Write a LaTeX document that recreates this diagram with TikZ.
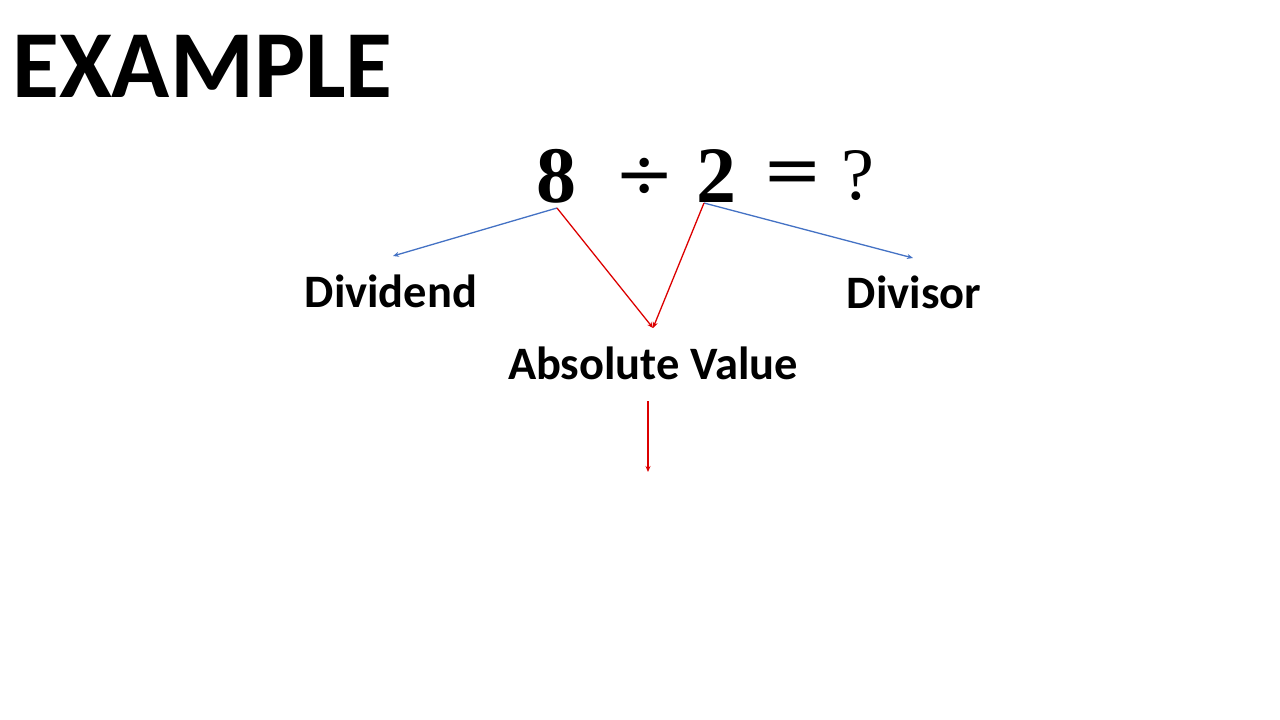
\documentclass[tikz,border=0pt]{standalone}
\usetikzlibrary{arrows.meta}
\usepackage{fontspec}
\setmainfont{Carlito}
\newfontfamily\mfont{Liberation Serif}
\newfontfamily\dfont{DejaVu Serif}
\begin{document}
\begin{tikzpicture}[x=1pt,y=-1pt,
  lbl/.style={font=\bfseries\fontsize{46.5}{50}\selectfont,inner sep=0},
  bl/.style={draw={rgb,255:red,68;green,114;blue,196},line width=1.3pt,-{Stealth[length=6pt,width=5pt]}},
  redl/.style={draw={rgb,255:red,220;green,0;blue,0},line width=1.3pt,-{Stealth[length=6pt,width=5pt]}}]
\useasboundingbox (0,0) rectangle (1280,720);
\node[lbl,font=\bfseries\fontsize{96}{98}\selectfont,anchor=west] (t) at (12,66) {EXAMPLE};
\node[inner sep=0,font=\mfont\bfseries\fontsize{80}{80}\selectfont] (n8) at (556,176) {8};
\node[inner sep=0,font=\dfont\fontsize{72}{72}\selectfont] (dv) at (645,178) {÷};
\node[inner sep=0,font=\mfont\bfseries\fontsize{80}{80}\selectfont] (n2) at (716,176) {2};
\node[inner sep=0,font=\dfont\fontsize{72}{72}\selectfont] (eq) at (793,178) {=};
\node[inner sep=0,font=\mfont\fontsize{74}{74}\selectfont] (q) at (858,176) {?};
\node[lbl] (dd) at (391,291) {Dividend};
\node[lbl] (ds) at (914,292) {Divisor};
\node[lbl] (av) at (653,363) {Absolute Value};
\coordinate (a8) at (557,208);
\coordinate (a2) at (704,203);
\coordinate (eD) at (393,256);
\coordinate (eS) at (913,258);
\coordinate (eA) at (653,328);
\coordinate (s) at (648,401);
\coordinate (e) at (648,472);
\draw[bl] (a8) -- (eD);
\draw[bl] (a2) -- (eS);
\draw[redl] (a8) -- (eA);
\draw[redl] (a2) -- (eA);
\draw[redl] (s) -- (e);
\end{tikzpicture}
\end{document}
